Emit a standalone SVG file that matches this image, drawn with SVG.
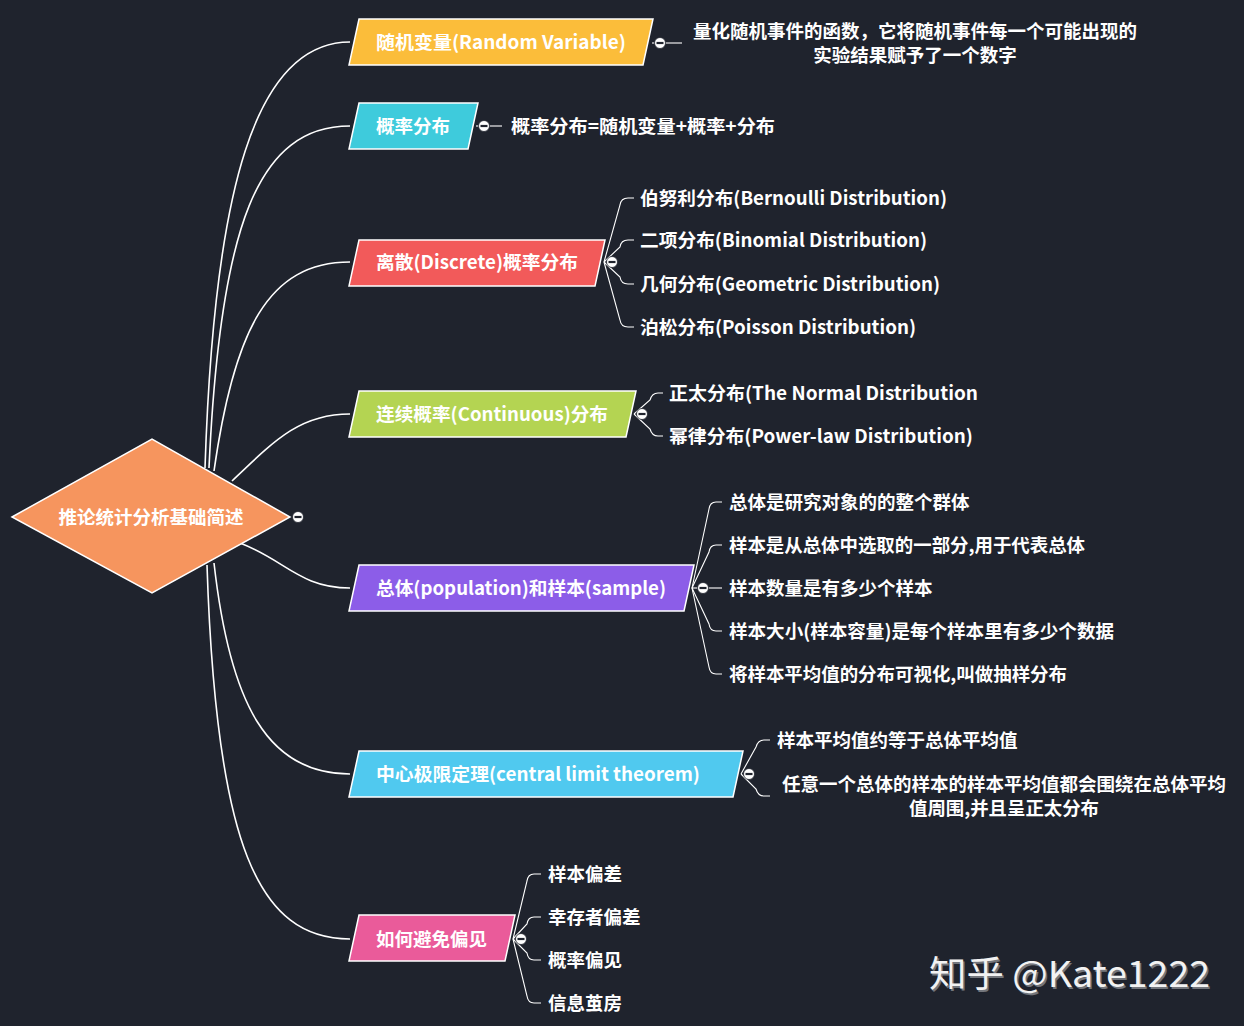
<svg xmlns="http://www.w3.org/2000/svg" width="1244" height="1026" viewBox="0 0 1244 1026">
<style>
.bg{fill:#1f232d}
.node{stroke:#ffffff;stroke-width:1.5}
.t{font-family:"Noto Sans CJK SC","Liberation Sans",sans-serif;font-weight:700;font-size:18.5px;fill:#ffffff;dominant-baseline:central}
.c{fill:none;stroke:#ffffff;stroke-width:1.6}
.s{fill:none;stroke:#ffffff;stroke-width:1.1}
.wm{font-family:"Noto Sans CJK SC","Liberation Sans",sans-serif;font-size:36px;fill:#f2f2f2}
</style>
<defs>
<g id="col"><circle r="5.5" fill="#ffffff" stroke="#1f232d" stroke-width="0.8"/><rect x="-3.5" y="-1.1" width="7" height="2.2" fill="#1f232d"/></g>
</defs>
<rect class="bg" x="0" y="0" width="1244" height="1026"/>

<g id="connectors">
<path class="c" d="M205 468 C214 190 255 42 350 42"/>
<path class="c" d="M209 468 C220 225 258 126 350 126"/>
<path class="c" d="M214 471 C234 330 268 262 350 262"/>
<path class="c" d="M232 481 C275 440 300 414 350 414"/>
<path class="c" d="M240 543 C285 560 300 588 350 588"/>
<path class="c" d="M214 563 C230 705 268 774 350 774"/>
<path class="c" d="M207 565 C216 845 258 939 350 939"/>
<path class="s" d="M652 43 L682 43"/>
<path class="s" d="M476 126 L502 126"/>
<path class="s" d="M604 262 L620 205 Q621 198 628 198 L634 198"/>
<path class="s" d="M604 262 L620 247 Q621 240 628 240 L634 240"/>
<path class="s" d="M604 262 L620 277 Q621 284 628 284 L634 284"/>
<path class="s" d="M604 262 L620 320 Q621 327 628 327 L634 327"/>
<path class="s" d="M634 414 L650 400 Q652 393 658 393 L663 393"/>
<path class="s" d="M634 414 L650 429 Q652 436 658 436 L663 436"/>
<path class="s" d="M692 588 L709 509 Q710 502 716 502 L722 502"/>
<path class="s" d="M692 588 L709 552 Q710 545 716 545 L722 545"/>
<path class="s" d="M692 588 L722 588"/>
<path class="s" d="M692 588 L709 624 Q710 631 716 631 L722 631"/>
<path class="s" d="M692 588 L709 667 Q710 674 716 674 L722 674"/>
<path class="s" d="M741 774 L756 747 Q758 740 764 740 L770 740"/>
<path class="s" d="M741 774 L756 789 Q758 796 764 796 L770 796"/>
<path class="s" d="M513 939 L527 881 Q528 874 534 874 L541 874"/>
<path class="s" d="M513 939 L527 924 Q528 917 534 917 L541 917"/>
<path class="s" d="M513 939 L527 953 Q528 960 534 960 L541 960"/>
<path class="s" d="M513 939 L527 996 Q528 1003 534 1003 L541 1003"/>
</g>

<g id="root">
<polygon class="node" points="12,517 152,439 290,517 152,593" fill="#f6955e"/>
<text class="t" x="151" y="516" text-anchor="middle">推论统计分析基础简述</text>
<use href="#col" x="298" y="517"/>
</g>

<g id="n1">
<polygon class="node" points="359,19 653,19 643,65 349,65" fill="#fbbd3a"/>
<text class="t" x="376" y="41" textLength="250" lengthAdjust="spacingAndGlyphs">随机变量(Random Variable)</text>
<use href="#col" x="660" y="43"/>
</g>
<g id="n1c">
<text class="t" x="915" y="30" text-anchor="middle">量化随机事件的函数，它将随机事件每一个可能出现的</text>
<text class="t" x="915" y="54" text-anchor="middle">实验结果赋予了一个数字</text>
</g>

<g id="n2">
<polygon class="node" points="359,103 478,103 468,149 349,149" fill="#3ecbdc"/>
<text class="t" x="376" y="125">概率分布</text>
<use href="#col" x="484" y="126"/>
</g>
<g id="n2c">
<text class="t" x="511" y="125" textLength="264" lengthAdjust="spacingAndGlyphs">概率分布=随机变量+概率+分布</text>
</g>

<g id="n3">
<polygon class="node" points="359,240 605,240 595,286 349,286" fill="#f25a5a"/>
<text class="t" x="376" y="261" textLength="202" lengthAdjust="spacingAndGlyphs">离散(Discrete)概率分布</text>
<use href="#col" x="612" y="262"/>
</g>
<g id="n3c">
<text class="t" x="640" y="197" textLength="307" lengthAdjust="spacingAndGlyphs">伯努利分布(Bernoulli Distribution)</text>
<text class="t" x="640" y="239" textLength="287" lengthAdjust="spacingAndGlyphs">二项分布(Binomial Distribution)</text>
<text class="t" x="640" y="283" textLength="300" lengthAdjust="spacingAndGlyphs">几何分布(Geometric Distribution)</text>
<text class="t" x="640" y="326" textLength="276" lengthAdjust="spacingAndGlyphs">泊松分布(Poisson Distribution)</text>
</g>

<g id="n4">
<polygon class="node" points="359,391 636,391 626,437 349,437" fill="#b4d452"/>
<text class="t" x="376" y="413" textLength="232" lengthAdjust="spacingAndGlyphs">连续概率(Continuous)分布</text>
<use href="#col" x="642" y="414"/>
</g>
<g id="n4c">
<text class="t" x="669" y="392" textLength="309" lengthAdjust="spacingAndGlyphs">正太分布(The Normal Distribution</text>
<text class="t" x="669" y="435" textLength="304" lengthAdjust="spacingAndGlyphs">幂律分布(Power-law Distribution)</text>
</g>

<g id="n5">
<polygon class="node" points="359,565 694,565 684,611 349,611" fill="#8c5de8"/>
<text class="t" x="376" y="587" textLength="290" lengthAdjust="spacingAndGlyphs">总体(population)和样本(sample)</text>
<use href="#col" x="703" y="588"/>
</g>
<g id="n5c">
<text class="t" x="729" y="501">总体是研究对象的的整个群体</text>
<text class="t" x="729" y="544" textLength="356" lengthAdjust="spacingAndGlyphs">样本是从总体中选取的一部分,用于代表总体</text>
<text class="t" x="729" y="587">样本数量是有多少个样本</text>
<text class="t" x="729" y="630" textLength="385" lengthAdjust="spacingAndGlyphs">样本大小(样本容量)是每个样本里有多少个数据</text>
<text class="t" x="729" y="673" textLength="338" lengthAdjust="spacingAndGlyphs">将样本平均值的分布可视化,叫做抽样分布</text>
</g>

<g id="n6">
<polygon class="node" points="359,751 743,751 733,797 349,797" fill="#50c9ef"/>
<text class="t" x="376" y="773" textLength="324" lengthAdjust="spacingAndGlyphs">中心极限定理(central limit theorem)</text>
<use href="#col" x="749" y="774"/>
</g>
<g id="n6c">
<text class="t" x="777" y="739">样本平均值约等于总体平均值</text>
<text class="t" x="1004" y="783" text-anchor="middle">任意一个总体的样本的样本平均值都会围绕在总体平均</text>
<text class="t" x="1004" y="807" text-anchor="middle" textLength="190" lengthAdjust="spacingAndGlyphs">值周围,并且呈正太分布</text>
</g>

<g id="n7">
<polygon class="node" points="359,915 515,915 505,961 349,961" fill="#ea5b9a"/>
<text class="t" x="376" y="938">如何避免偏见</text>
<use href="#col" x="521" y="939"/>
</g>
<g id="n7c">
<text class="t" x="548" y="873">样本偏差</text>
<text class="t" x="548" y="916">幸存者偏差</text>
<text class="t" x="548" y="959">概率偏见</text>
<text class="t" x="548" y="1002">信息茧房</text>
</g>

<text class="wm" x="929" y="987" fill="#000000" opacity="0.4" dx="1.5" dy="1.5" textLength="281" lengthAdjust="spacingAndGlyphs">知乎 @Kate1222</text>
<text class="wm" x="929" y="987" textLength="281" lengthAdjust="spacingAndGlyphs">知乎 @Kate1222</text>
</svg>
